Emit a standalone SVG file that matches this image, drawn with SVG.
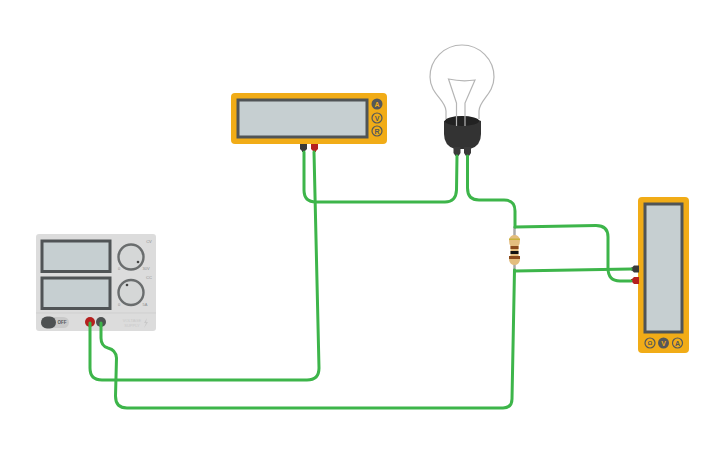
<svg xmlns="http://www.w3.org/2000/svg" width="725" height="453" viewBox="0 0 725 453">
<style>
.wire{fill:none;stroke:#3db54a;stroke-width:3;stroke-linecap:round;stroke-linejoin:round}
.scr{fill:#c6cfd1;stroke:#505456;stroke-width:3}
.body{fill:#f1ac17}
.btn{fill:none;stroke:#55585a;stroke-width:1.2}
.on{fill:#55585a}
.t{font-family:"Liberation Sans",Arial,sans-serif;font-weight:700;text-anchor:middle;fill:#55585a}
.s{font-family:"Liberation Sans",Arial,sans-serif;text-anchor:middle;fill:#8d8f8f}
.pin{fill:#3a3a3a}.pinr{fill:#b5201f}
.knob{fill:#d5d7d7;stroke:#6a6d6e;stroke-width:2.400}
</style>
<g id="supply">
<rect x="36" y="234" width="120" height="97" rx="3" fill="#dcdcdc"/>
<line x1="36" y1="313" x2="156" y2="313" stroke="#cfcfcf"/>
<rect class="scr" x="42" y="241" width="68" height="30.500"/>
<rect class="scr" x="42" y="278" width="68" height="30.500"/>
<circle class="knob" cx="131" cy="257" r="12.500"/>
<circle cx="138" cy="262" r="1.300" fill="#444"/>
<circle class="knob" cx="131" cy="292.500" r="12.500"/>
<circle cx="127" cy="285" r="1.300" fill="#444"/>
<text class="s" x="149" y="243" font-size="4">CV</text>
<text class="s" x="149" y="279" font-size="4">CC</text>
<text class="s" x="119" y="270" font-size="4">0</text>
<text class="s" x="146" y="270" font-size="4">30V</text>
<text class="s" x="119" y="306" font-size="4">0</text>
<text class="s" x="145" y="306" font-size="4">5A</text>
<rect x="41" y="317" width="28" height="11" rx="5.500" fill="#c9c9c9"/>
<rect x="41" y="316.500" width="15" height="12" rx="6" fill="#4e5152"/>
<text class="t" x="62" y="324" font-size="4.500">OFF</text>
<text x="132" y="322" font-size="4" font-family="Liberation Sans, Arial, sans-serif" text-anchor="middle" fill="#c9c9c9">VOLTAGE</text>
<text x="132" y="327" font-size="4" font-family="Liberation Sans, Arial, sans-serif" text-anchor="middle" fill="#c9c9c9">SUPPLY</text>
<path d="M147 318l-3 5h2l-2 5 4-6h-2z" fill="#c9c9c9"/>
<circle cx="90" cy="322" r="5" fill="#b5201f"/>
<circle cx="101" cy="322" r="5" fill="#4e5152"/>
</g>
<g id="ammeter">
<rect class="body" x="231" y="93" width="156" height="51" rx="4"/>
<rect class="scr" x="238" y="100" width="129" height="37"/>
<circle class="on" cx="377" cy="104" r="5.500"/>
<text x="377" y="106.500" font-size="7" font-weight="700" font-family="Liberation Sans, Arial, sans-serif" text-anchor="middle" fill="#f1ac17">A</text>
<circle class="btn" cx="377" cy="118" r="5"/>
<text class="t" x="377" y="120.500" font-size="7">V</text>
<circle class="btn" cx="377" cy="131" r="5"/>
<text class="t" x="377" y="133.500" font-size="7">R</text>
<path class="pin" d="M300 144h7v5l-2 2v1h-3v-1l-2-2z"/>
<path class="pinr" d="M311 144h7v5l-2 2v1h-3v-1l-2-2z"/>
</g>
<g id="bulb">
<path d="M446 119V111C446 100 430 94 430 77A32 32 0 0 1 494 77C494 94 479 100 479 111V119" fill="#fff" fill-opacity=".6" stroke="#b5b5b5" stroke-width="1.200"/>
<path d="M456.500 125V103L448.500 79Q462 82 475 80L465 103V125" fill="none" stroke="#b5b5b5" stroke-width="1.200"/>
<path d="M444 121Q462 112 481 121V134Q481 146 470 149H455Q444 146 444 134Z" fill="#333"/>
<ellipse cx="462" cy="121" rx="17" ry="5" fill="#222"/>
<path d="M456.500 126V116M465 126V116" stroke="#b5b5b5" stroke-width="1.200" fill="none"/>
<path class="pin" d="M453.500 147h7v6l-2 3h-3l-2-3z"/>
<path class="pin" d="M464 147h7v6l-2 3h-3l-2-3z"/>
</g>
<g id="resistor">
<path d="M514.500 227V270" stroke="#a9a9a9" stroke-width="2.500" fill="none"/>
<path d="M509 240Q510 235 514.500 235Q519 235 520 240Q520 244 518.500 246V255Q520 258 520 260Q519 265 514.500 265Q510 265 509 260Q509 258 510.500 255V246Q509 244 509 240Z" fill="#e3bd7f"/>
<rect x="509" y="238.500" width="11" height="1.500" fill="#c9b23c"/>
<rect x="510.500" y="246" width="8" height="3" fill="#8a4a1c"/>
<rect x="510.500" y="251" width="8" height="3" fill="#111"/>
<rect x="509" y="256" width="11" height="3" fill="#8a4a1c"/>
</g>
<g id="voltmeter">
<rect class="body" x="638" y="197" width="51" height="156" rx="4"/>
<rect class="scr" x="645" y="204" width="37" height="128"/>
<circle class="btn" cx="650" cy="343" r="5"/>
<text class="t" x="650" y="345" font-size="6">Ω</text>
<circle class="on" cx="663.500" cy="343" r="5.500"/>
<text x="663.500" y="345.500" font-size="7" font-weight="700" font-family="Liberation Sans, Arial, sans-serif" text-anchor="middle" fill="#f1ac17">V</text>
<circle class="btn" cx="677.500" cy="343" r="5"/>
<text class="t" x="677.500" y="345.500" font-size="7">A</text>
<path class="pin" d="M639 265.500v7h-5l-2-2h-1v-3h1l2-2z"/>
<path class="pinr" d="M639 277v7h-5l-2-2h-1v-3h1l2-2z"/>
</g>
<g id="connectors">
<path class="wire" d="M90 323V368Q90 380 102 380H307Q319 380 319 368L314 152"/>
<path class="wire" d="M101 323V338Q101 346 108 348Q116 350 116.500 358L115.500 396Q115.500 408 127 408H503Q512 408 512 399L514.500 270"/>
<path class="wire" d="M304 152V190Q304 202 316 202H445Q456 202 456.500 190L457 156"/>
<path class="wire" d="M467.500 156V188Q467.500 200 479 200H504Q515 200 515 211V227"/>
<path class="wire" d="M515 227L596 225.500Q608 225.500 608 237V268Q608 281 620 281H631"/>
<path class="wire" d="M515 271L631 269"/>
</g>
</svg>
